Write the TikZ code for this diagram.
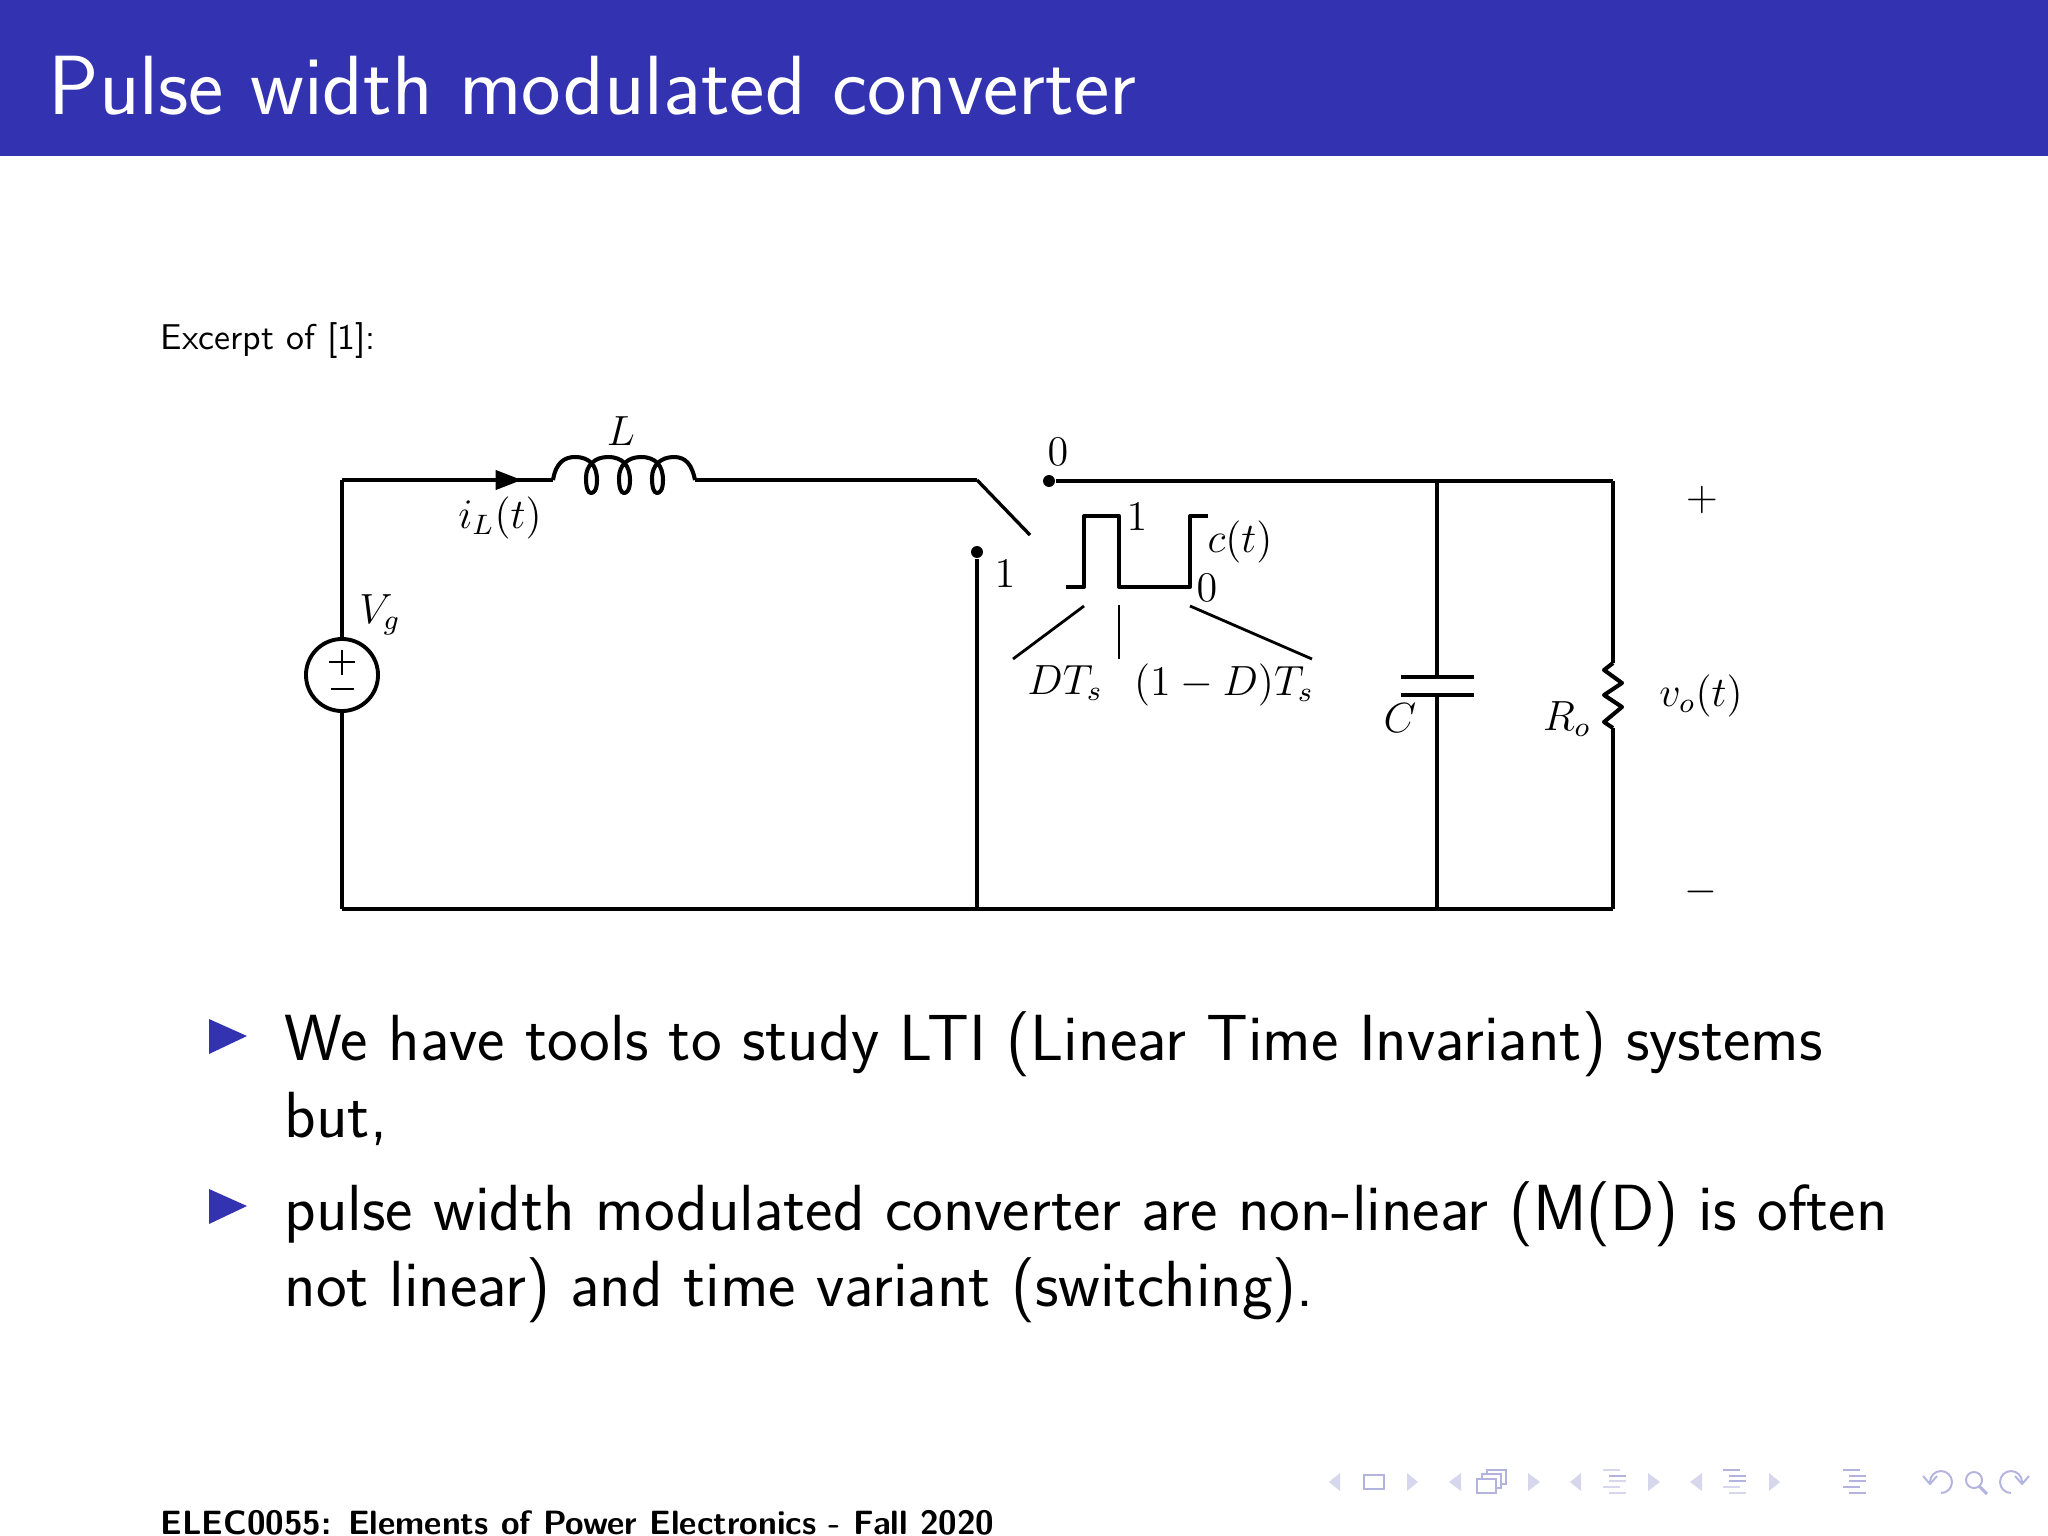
\documentclass[tikz,border=0pt]{standalone}
\usepackage{amsmath}
\usepackage{amssymb}
\usepackage{tikz}
\usetikzlibrary{arrows.meta}
\definecolor{slideblue}{rgb}{0.2,0.2,0.7}
\definecolor{navdark}{HTML}{B3B3E0}
\definecolor{navlight}{HTML}{D6D6EC}
\begin{document}
\begin{tikzpicture}[x=0.01cm,y=-0.01cm,
    wire/.style={line width=1.15pt,line join=round},
    thinwire/.style={line width=0.95pt,line join=round},
    tick/.style={line width=0.8pt},
    dot/.style={circle,fill,inner sep=0pt,minimum size=3.4pt},
    lab/.style={inner sep=0pt,font=\fontsize{11.6}{14}\selectfont},
    body/.style={anchor=base west,inner sep=0pt,font=\fontsize{18.55}{22}\selectfont\sffamily},
    navicon/.style={navdark,line width=0.55pt}]
    \useasboundingbox (0,0) rectangle (2048,1536);
    \fill[slideblue] (0,0) rectangle (2048,156);
    \node[anchor=base west,inner sep=0pt,text=white,font=\fontsize{23.9}{28}\selectfont\sffamily] (title) at (48,114) {Pulse width modulated converter};
    \node[anchor=base west,inner sep=0pt,font=\fontsize{10.2}{12}\selectfont\sffamily] (excerpt) at (160,349) {Excerpt of [1]:};

    \coordinate (TL) at (342,480);
    \coordinate (BL) at (342,909);
    \coordinate (tip) at (522,480);
    \coordinate (tipb) at (508,480);
    \coordinate (Lin) at (553,480);
    \coordinate (Lout) at (695,480);
    \coordinate (swA) at (977,480);
    \coordinate (swB) at (1030,535);
    \coordinate (BS) at (977,909);
    \coordinate (CT) at (1437,481);
    \coordinate (CB) at (1437,909);
    \coordinate (TR) at (1613,481);
    \coordinate (BR) at (1613,909);
    \coordinate (Ra) at (1613,663);
    \coordinate (Rb) at (1613,728);
    \coordinate (Ca) at (1437,677);
    \coordinate (Cb) at (1437,695);
    \node[circle,draw,line width=1.1pt,minimum size=72pt*0.2845,inner sep=0pt] (Vg) at (342,675) {};
    \node[dot] (zero) at (1049,481) {};
    \node[dot] (one) at (977,552) {};

    \draw[thinwire] (Vg) -- (TL);
    \draw[wire,-{Triangle[length=7.5pt,width=5.4pt]}] (TL) -- (tip);
    \draw[wire] (tipb) -- (Lin);
    \draw[wire] (Lout) -- (swA);
    \draw[thinwire] (swA) -- (swB);
    \draw[wire] (zero) -- (TR);
    \draw[thinwire] (Vg) -- (BL);
    \draw[wire] (BL) -- (BR);
    \draw[thinwire] (one) -- (BS);
    \draw[thinwire] (CT) -- (Ca);
    \draw[thinwire] (Cb) -- (CB);
    \draw[thinwire] (TR) -- (Ra);
    \draw[thinwire] (Rb) -- (BR);

    \draw[wire] (Lin) .. controls (556,462) and (565,457) .. (575,457);
    \foreach \x in {0,33,66}
      \draw[wire] (575+\x,457) .. controls (590+\x,457) and (597+\x,466) .. (597+\x,480)
        .. controls (597+\x,490) and (594+\x,493) .. (591+\x,493)
        .. controls (588+\x,493) and (586+\x,488) .. (586+\x,478)
        .. controls (586+\x,465) and (595+\x,457) .. (608+\x,457);
    \draw[wire] (674,457) .. controls (686,457) and (692,465) .. (Lout);

    \draw[wire] (1401,677) -- (1474,677);
    \draw[wire] (1401,695) -- (1474,695);
    \draw[wire] (Ra) -- (1604,670) -- (1622,683) -- (1604,695) -- (1622,707) -- (1604,722) -- (Rb);

    \draw[line width=0.7pt] (329,662) -- (355,662);
    \draw[line width=0.5pt] (342,650) -- (342,675);
    \draw[line width=0.6pt] (331,689) -- (354,689);

    \draw[wire] (1066,587) -- (1084,587) -- (1084,516) -- (1119,516) -- (1119,587) -- (1190,587) -- (1190,516) -- (1208,516);
    \draw[tick] (1084,606) -- (1013,659);
    \draw[tick] (1119,605) -- (1119,659);
    \draw[tick] (1190,606) -- (1312,659);

    \node[lab] (labL) at (621,431) {$L$};
    \node[lab] (labi) at (500,518) {$i_L(t)$};
    \node[lab] (labV) at (380,615) {$V_g$};
    \node[lab] (lab0) at (1058,452) {$0$};
    \node[lab] (lab1) at (1005,574) {$1$};
    \node[lab] (labh) at (1137,517) {$1$};
    \node[lab] (labl) at (1207,588) {$0$};
    \node[lab] (labc) at (1240,542) {$c(t)$};
    \node[lab] (labD) at (1065,683) {$DT_s$};
    \node[lab] (labE) at (1224,685) {$(1-D)T_s$};
    \node[lab] (labC) at (1400,718) {$C$};
    \node[lab] (labR) at (1567,719) {$R_o$};
    \node[lab] (labv) at (1701,696) {$v_o(t)$};
    \node[lab] (labp) at (1702,500) {$+$};
    \node[lab] (labm) at (1701,892) {$-$};

    \fill[slideblue] (209,1019) -- (247,1036) -- (209,1054) -- cycle;
    \fill[slideblue] (209,1189) -- (247,1206) -- (209,1224) -- cycle;
    \node[body] (lineA) at (284,1060.5) {We have tools to study LTI (Linear Time Invariant) systems};
    \node[body] (lineB) at (284,1137.5) {but,};
    \node[body] (lineC) at (284,1230) {pulse width modulated converter are non-linear (M(D) is often};
    \node[body] (lineD) at (284,1306) {not linear) and time variant (switching).};
    \node[anchor=base west,inner sep=0pt,font=\fontsize{9.58}{11}\selectfont\sffamily\bfseries] (footer) at (160,1534) {ELEC0055: Elements of Power Electronics - Fall 2020};

    \foreach \a/\b in {1329/1340,1449/1461,1570/1581,1690/1702}
      \fill[navlight] (\a,1482) -- (\b,1473) -- (\b,1491) -- cycle;
    \foreach \a/\b in {1407/1418,1528/1540,1648/1660,1769/1780}
      \fill[navlight] (\a,1473) -- (\b,1482) -- (\a,1491) -- cycle;
    \draw[navicon] (1364,1475) rectangle (1384,1489);
    \draw[navicon,fill=white] (1487,1470) rectangle (1506,1484);
    \draw[navicon,fill=white] (1482,1474) rectangle (1501,1488);
    \draw[navicon,fill=white] (1477,1479) rectangle (1496,1493);
    \foreach \y/\sa/\sb/\sc in {1470/navlight/navdark/navdark,1476/navdark/navdark/navdark,1481/navlight/navdark/navdark,1487/navlight/navlight/navdark,1493/navlight/navlight/navdark}{
      \pgfmathsetmacro{\ind}{(\y==1470||\y==1487)?0:6}
      \fill[\sa] (1603+\ind,\y-1.2) rectangle (1620+\ind,\y+1.2);
      \fill[\sb] (1723+\ind,\y-1.2) rectangle (1740+\ind,\y+1.2);
      \fill[\sc] (1843+\ind,\y-1.2) rectangle (1860+\ind,\y+1.2);
    }
    \draw[navicon] (1941,1493) arc[start angle=90,end angle=-180,radius=11];
    \draw[navicon] (1923,1476) -- (1930,1484) -- (1937,1476);
    \draw[navicon] (1974,1480) circle[radius=8];
    \draw[navdark,line width=0.9pt] (1979,1486) -- (1987,1494);
    \draw[navicon] (2011,1493) arc[start angle=90,end angle=360,radius=11];
    \draw[navicon] (2015,1476) -- (2022,1484) -- (2029,1476);
  \end{tikzpicture}
\end{document}
